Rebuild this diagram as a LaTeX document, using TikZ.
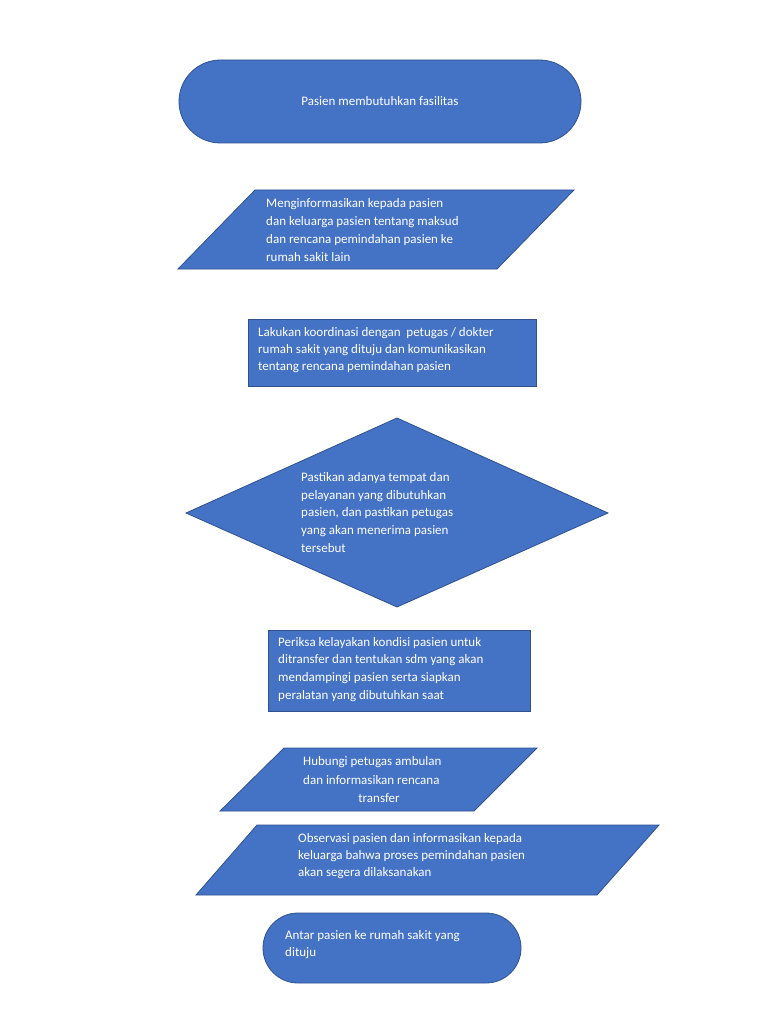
\documentclass[tikz,border=0pt]{standalone}
\usepackage{fontspec}
\setmainfont{Carlito}
\begin{document}
\begin{tikzpicture}[x=1pt,y=-1pt,
  box/.style={fill=blue!20!black!0, fill={rgb,255:red,68;green,114;blue,196}, draw={rgb,255:red,47;green,82;blue,143}, line width=0.8pt},
  t/.style={anchor=west, text=white, font=\fontsize{13}{16}\selectfont, inner sep=0pt}]
\fill[white] (0,0) rectangle (768,1024);
\useasboundingbox (0,0) rectangle (768,1024);
% 1
\draw[box] (220.5,60) -- (539.5,60) arc[start angle=90,end angle=-90,x radius=41.5,y radius=-41.5] -- (220.5,143) arc[start angle=270,end angle=90,x radius=41.5,y radius=-41.5] -- cycle;
\node[t, anchor=center] (n1) at (380,101) {Pasien membutuhkan fasilitas};
% 2
\draw[box] (255,190) -- (574,190) -- (497,269) -- (178,269) -- cycle;
\node[t] (n2a) at (266,204) {Menginformasikan kepada pasien};
\node[t] (n2b) at (266,222) {dan keluarga pasien tentang maksud};
\node[t] (n2c) at (266,240) {dan rencana pemindahan pasien ke};
\node[t] (n2d) at (266,257) {rumah sakit lain};
% 3
\draw[box] (248,319) rectangle (536,386);
\node[t] (n3a) at (258,333) {Lakukan koordinasi dengan \ petugas / dokter};
\node[t] (n3b) at (258,350) {rumah sakit yang dituju dan komunikasikan};
\node[t] (n3c) at (258,367) {tentang rencana pemindahan pasien};
% 4
\draw[box] (186,513) -- (397,418) -- (608,513) -- (397,607) -- cycle;
\node[t] (n4a) at (301,478) {Pastikan adanya tempat dan};
\node[t] (n4b) at (301,496) {pelayanan yang dibutuhkan};
\node[t] (n4c) at (301,513) {pasien, dan pastikan petugas};
\node[t] (n4d) at (301,531) {yang akan menerima pasien};
\node[t] (n4e) at (301,548) {tersebut};
% 5
\draw[box] (268,630) rectangle (530,711);
\node[t] (n5a) at (278,643) {Periksa kelayakan kondisi pasien untuk};
\node[t] (n5b) at (278,660) {ditransfer dan tentukan sdm yang akan};
\node[t] (n5c) at (278,678) {mendampingi pasien serta siapkan};
\node[t] (n5d) at (278,696) {peralatan yang dibutuhkan saat};
% 6
\draw[box] (284,748) -- (537,748) -- (474,811) -- (220,811) -- cycle;
\node[t] (n6a) at (303,762) {Hubungi petugas ambulan};
\node[t] (n6b) at (303,780) {dan informasikan rencana};
\node[t, anchor=center] (n6c) at (379,798) {transfer};
% 7
\draw[box] (257,825) -- (659,825) -- (597,895) -- (196,895) -- cycle;
\node[t] (n7a) at (298,839) {Observasi pasien dan informasikan kepada};
\node[t] (n7b) at (298,856) {keluarga bahwa proses pemindahan pasien};
\node[t] (n7c) at (298,873) {akan segera dilaksanakan};
% 8
\draw[box] (298,913) -- (486,913) arc[start angle=90,end angle=-90,x radius=35,y radius=-35] -- (298,983) arc[start angle=270,end angle=90,x radius=35,y radius=-35] -- cycle;
\node[t] (n8a) at (285,936) {Antar pasien ke rumah sakit yang};
\node[t] (n8b) at (285,953) {dituju};
\end{tikzpicture}
\end{document}
